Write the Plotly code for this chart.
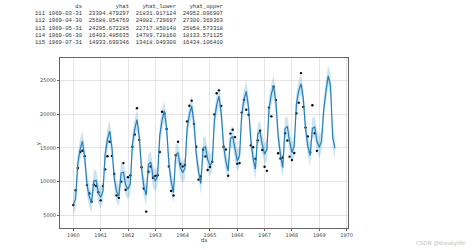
import pandas as pd
import plotly.graph_objects as go

# ---------------- data ----------------
hist_dates = pd.date_range("1960-01-01", periods=108, freq="MS")
future_dates = ["1968-12-31", "1969-01-31", "1969-02-28", "1969-03-31",
                "1969-04-30", "1969-05-31", "1969-06-30", "1969-07-31"]

y_obs = [
    6550, 8728, 12026, 14395, 14587, 13791, 9498, 8251, 7049, 9545, 9364, 8456,
    7237, 9374, 11837, 13784, 15926, 13821, 11143, 7975, 7610, 10015, 12759, 8816,
    10677, 10947, 15200, 17010, 20900, 16205, 12143, 8997, 5568, 11474, 12256, 10583,
    10862, 10965, 14405, 20379, 20128, 17816, 12268, 8642, 7962, 13932, 15936, 12628,
    12267, 12470, 18944, 21259, 22015, 18581, 15175, 10306, 10792, 14752, 13754, 11738,
    12181, 12965, 19990, 23125, 23541, 21247, 15189, 14767, 10895, 17130, 17697, 16611,
    12674, 12760, 20249, 22135, 20677, 19933, 15388, 15113, 13401, 16135, 17562, 14720,
    12225, 11608, 20985, 19692, 24081, 22114, 14220, 13434, 13598, 17187, 16119, 13713,
    13210, 14251, 20139, 21725, 26099, 21084, 18024, 16722, 14385, 21342, 17180, 14577,
]

yhat = [
    6600, 7500, 12700, 14800, 16000, 13700, 9600, 7800, 6900, 10100, 10200, 8300,
    7700, 8600, 14000, 16300, 17500, 15000, 10500, 8600, 7900, 11300, 11400, 9500,
    8900, 9700, 15500, 17800, 19200, 16600, 11900, 9300, 8000, 12600, 12900, 10800,
    10100, 10900, 16800, 19100, 20500, 18000, 12800, 10000, 8400, 14000, 14300, 12100,
    11350, 12000, 17800, 20000, 21200, 18800, 14200, 11500, 9700, 15000, 15200, 13300,
    12350, 13000, 19200, 21400, 22700, 20100, 15400, 13000, 11600, 16400, 16700, 14600,
    13080, 13900, 20000, 22200, 23400, 21000, 16200, 13400, 11850, 17100, 17400, 15500,
    14060, 14800, 20800, 23000, 24200, 21800, 16800, 14000, 12100, 17900, 18200, 16000,
    14300, 15300, 21500, 23500, 24500, 22400, 17900, 15300, 13900, 17900, 18100, 16000,
    15100, 16000, 20500, 23394.479297, 25688.054769, 24295.672285, 16493.485635, 14933.699346,
]

yhat_lower = [
    5050, 5980, 11150, 13230, 14480, 12120, 8050, 6280, 5330, 8560, 8630, 6770,
    6130, 7080, 12430, 14760, 15980, 13430, 8960, 7010, 6380, 9740, 9850, 7960,
    7370, 8130, 13980, 16220, 17630, 15070, 10330, 7770, 6420, 11040, 11370, 9240,
    8540, 9380, 15230, 17560, 18950, 16430, 11260, 8430, 6870, 12460, 12730, 10540,
    9810, 10430, 16260, 18440, 19640, 17270, 12630, 9960, 8140, 13470, 13660, 11730,
    10790, 11460, 17660, 19850, 21130, 18560, 13840, 11470, 10050, 14850, 15140, 13070,
    11520, 12360, 18430, 20660, 21860, 19450, 14640, 11870, 10290, 15540, 15860, 13940,
    12510, 13230, 19260, 21440, 22660, 20230, 15250, 12440, 10560, 16360, 16660, 14430,
    12740, 13760, 19940, 21950, 22950, 20860, 16320, 13770, 12340, 16350, 16560, 14420,
    13550, 14420, 18930, 21831.917124, 24082.729697, 22717.850148, 14789.728160, 13418.049300,
]

yhat_upper = [
    8170, 9040, 14230, 16380, 17560, 15250, 11180, 9350, 8480, 11680, 11730, 9870,
    9260, 10150, 15580, 17830, 19060, 16550, 12040, 10170, 9470, 12860, 12940, 11060,
    10460, 11240, 17020, 19380, 20740, 18160, 13450, 10830, 9570, 14150, 14470, 12350,
    11680, 12450, 18350, 20630, 22060, 19570, 14340, 11580, 9960, 15540, 15870, 13650,
    12890, 13560, 19340, 21570, 22760, 20350, 15760, 13040, 11260, 16560, 16750, 14870,
    13910, 14560, 20740, 22960, 24250, 21660, 16930, 14560, 13150, 17960, 18250, 16150,
    14640, 15440, 21560, 23750, 24960, 22570, 17740, 14960, 13390, 18660, 18950, 17070,
    15620, 16340, 22340, 24560, 25750, 23340, 18360, 15570, 13650, 19450, 19760, 17560,
    15850, 16860, 23060, 25060, 26050, 23960, 19450, 16860, 15470, 19450, 19660, 17560,
    16660, 17580, 22080, 24952.096907, 27300.369363, 25858.573318, 18133.571125, 16434.106410,
]

table_index = ["111", "112", "113", "114", "115"]
table_ds = ["1969-03-31", "1969-04-30", "1969-05-31", "1969-06-30", "1969-07-31"]
table_yhat = ["23394.479297", "25688.054769", "24295.672285", "16493.485635", "14933.699346"]
table_lower = ["21831.917124", "24082.729697", "22717.850148", "14789.728160", "13418.049300"]
table_upper = ["24952.096907", "27300.369363", "25858.573318", "18133.571125", "16434.106410"]

x_tick_vals = [f"{y}-01-01" for y in range(1960, 1971)]
x_tick_text = [str(y) for y in range(1960, 1971)]
y_tick_vals = [5000, 10000, 15000, 20000, 25000]

ds_hist = list(hist_dates)
ds_fcst = list(hist_dates) + list(pd.to_datetime(future_dates))

# ---------------- layout geometry ----------------
W, H = 474, 250
L, R, T, B = 59.5, 348.3, 57.7, 228.3
PW, PH = R - L, B - T


def px_x(x):
    return (x - L) / PW


def px_y(y):
    return (B - y) / PH


BLUE = "#0072B2"

fig = go.Figure()
fig.add_trace(go.Scatter(x=ds_hist, y=y_obs, mode="markers",
                         marker=dict(color="black", size=2.4), showlegend=False))
fig.add_trace(go.Scatter(x=ds_fcst, y=yhat, mode="lines",
                         line=dict(color="#2a84c0", width=1.2), showlegend=False))
fig.add_trace(go.Scatter(x=ds_fcst, y=yhat_lower, mode="lines",
                         line=dict(width=0, color=BLUE), showlegend=False))
fig.add_trace(go.Scatter(x=ds_fcst, y=yhat_upper, mode="lines", fill="tonexty",
                         fillcolor="rgba(0,114,178,0.2)",
                         line=dict(width=0, color=BLUE), showlegend=False))

axis_common = dict(showgrid=True, gridcolor="rgba(128,128,128,0.2)", gridwidth=1,
                   showline=True, linecolor="#666", linewidth=1, mirror=True,
                   ticks="outside", ticklen=2, tickcolor="#666",
                   tickfont=dict(family="DejaVu Sans", size=5, color="#444"),
                   zeroline=False)

fig.update_layout(
    width=W, height=H,
    margin=dict(l=L, r=W - R, t=T, b=H - B, pad=0),
    paper_bgcolor="white", plot_bgcolor="white",
    xaxis=dict(range=["1959-07-07", "1970-01-20"], tickmode="array",
               tickvals=x_tick_vals, ticktext=x_tick_text, **axis_common),
    yaxis=dict(range=[3140, 28340], tickmode="array", tickvals=y_tick_vals,
               ticktext=[str(v) for v in y_tick_vals], **axis_common),
)

ann = []
mono = dict(family="Liberation Mono", size=5.6, color="#333")
NB = "\u00a0"
header = " " * 4 + "ds".rjust(10) + "  " + "yhat".rjust(12) + "  " + "yhat_lower".rjust(12) + "  " + "yhat_upper".rjust(12)
rows = [header]
for i in range(5):
    rows.append(table_index[i] + " " + table_ds[i] + "  " + table_yhat[i] + "  " + table_lower[i] + "  " + table_upper[i])
row_y = [5.7, 13.0, 20.3, 27.7, 35.0, 42.3]
for txt, yy in zip(rows, row_y):
    ann.append(dict(text=txt.replace(" ", NB), xref="paper", yref="paper",
                    x=px_x(32.3), y=px_y(yy), xanchor="left", yanchor="middle",
                    showarrow=False, font=mono))

lab = dict(family="DejaVu Sans", size=5.5, color="#444")
ann.append(dict(text="ds", xref="paper", yref="paper", x=px_x(203.5), y=px_y(240.5),
                xanchor="center", yanchor="middle", showarrow=False, font=lab))
ann.append(dict(text="y", xref="paper", yref="paper", x=px_x(37.5), y=px_y(143.3),
                xanchor="center", yanchor="middle", showarrow=False, font=lab, textangle=-90))
ann.append(dict(text="CSDN @theskylife", xref="paper", yref="paper", x=px_x(468.5), y=px_y(243.5),
                xanchor="right", yanchor="middle", showarrow=False,
                font=dict(family="DejaVu Sans", size=5.5, color="#bbbbbb")))
fig.update_layout(annotations=ann)

fig.write_html("out.html")
